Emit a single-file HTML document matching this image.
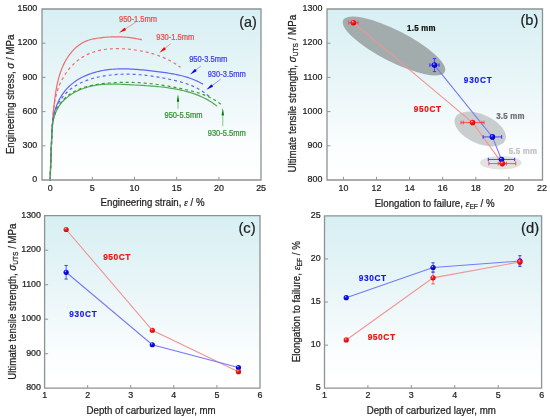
<!DOCTYPE html>
<html><head><meta charset="utf-8"><title>figure</title>
<style>
html,body{margin:0;padding:0;background:#fff;width:550px;height:420px;overflow:hidden;}
svg{display:block;font-family:"Liberation Sans", sans-serif;will-change:transform;}
</style></head><body>
<svg width="550" height="420" viewBox="0 0 550 420" font-family='"Liberation Sans", sans-serif'>
<defs>
<linearGradient id="bg" x1="0" y1="0" x2="0" y2="1">
<stop offset="0" stop-color="#d7eff3"/>
<stop offset="0.45" stop-color="#eaf6f8"/>
<stop offset="0.8" stop-color="#fbfdfe"/>
<stop offset="1" stop-color="#ffffff"/>
</linearGradient>
<radialGradient id="gr" cx="0.38" cy="0.32" r="0.7">
<stop offset="0" stop-color="#ffd0d0"/>
<stop offset="0.3" stop-color="#ff2020"/>
<stop offset="1" stop-color="#d00000"/>
</radialGradient>
<radialGradient id="gb" cx="0.38" cy="0.32" r="0.7">
<stop offset="0" stop-color="#d0d0ff"/>
<stop offset="0.3" stop-color="#1010ff"/>
<stop offset="1" stop-color="#0000b0"/>
</radialGradient>
</defs>
<rect width="550" height="420" fill="#ffffff"/>
<rect x="42.00" y="9.00" width="219.00" height="171.00" fill="url(#bg)"/>
<g fill="none" stroke-linecap="butt" stroke-linejoin="round" transform="translate(0,0.5)">
<path d="M50.16,180.00 L50.23,178.26 L50.30,176.52 L50.36,174.77 L50.42,173.03 L50.48,171.29 L50.54,169.55 L50.60,167.80 L50.66,166.06 L50.71,164.32 L50.77,162.58 L50.83,160.84 L50.88,159.10 L50.94,157.35 L50.99,155.61 L51.05,153.87 L51.11,152.13 L51.17,150.39 L51.23,148.65 L51.29,146.91 L51.36,145.17 L51.42,143.43 L51.49,141.69 L51.57,139.95 L51.64,138.21 L51.72,136.47 L51.80,134.73 L51.89,133.00 L51.98,131.26 L52.08,129.52 L52.18,127.78 L52.28,126.04 L52.39,124.31 L52.51,122.57 L52.63,120.83 L52.75,119.09 L52.89,117.36 L53.03,115.62 L53.17,113.89 L53.33,112.15 L53.49,110.41 L53.65,108.68 L53.83,106.94 L54.01,105.21 L54.20,103.48 L54.40,101.74 L54.61,100.01 L54.83,98.27 L55.06,96.54 L55.29,94.81 L55.54,93.08 L55.81,91.35 L56.09,89.63 L56.39,87.91 L56.71,86.19 L57.04,84.49 L57.40,82.78 L57.79,81.09 L58.20,79.40 L58.64,77.72 L59.10,76.05 L59.60,74.39 L60.13,72.74 L60.69,71.11 L61.29,69.48 L61.92,67.87 L62.60,66.27 L63.31,64.69 L64.06,63.12 L64.86,61.57 L65.70,60.03 L66.59,58.52 L67.52,57.04 L68.49,55.58 L69.51,54.16 L70.57,52.77 L71.68,51.43 L72.83,50.12 L74.02,48.87 L75.25,47.67 L76.53,46.52 L77.86,45.43 L79.22,44.40 L80.63,43.44 L82.08,42.55 L83.58,41.73 L85.12,40.99 L86.70,40.33 L88.33,39.74 L89.99,39.23 L91.68,38.79 L93.39,38.40 L95.13,38.07 L96.88,37.78 L98.64,37.52 L100.40,37.29 L102.16,37.09 L103.92,36.91 L105.68,36.75 L107.44,36.61 L109.19,36.50 L110.94,36.41 L112.69,36.35 L114.44,36.31 L116.19,36.30 L117.93,36.31 L119.67,36.35 L121.41,36.41 L123.14,36.50 L124.87,36.62 L126.59,36.77 L128.31,36.94 L130.03,37.14 L131.74,37.37 L133.45,37.62 L135.15,37.91 L136.85,38.23 L138.54,38.57 L140.23,38.95 L141.91,39.35" stroke="#ef6b6b" stroke-width="1.2"/>
<path d="M50.19,180.00 L50.23,178.01 L50.28,176.02 L50.33,174.03 L50.38,172.04 L50.44,170.05 L50.51,168.06 L50.58,166.07 L50.65,164.08 L50.72,162.09 L50.80,160.10 L50.88,158.11 L50.96,156.13 L51.05,154.14 L51.13,152.15 L51.22,150.16 L51.30,148.17 L51.39,146.19 L51.48,144.20 L51.56,142.21 L51.65,140.22 L51.73,138.24 L51.81,136.25 L51.89,134.26 L51.97,132.27 L52.05,130.28 L52.14,128.30 L52.22,126.31 L52.32,124.32 L52.42,122.33 L52.54,120.34 L52.67,118.36 L52.82,116.37 L52.98,114.38 L53.16,112.40 L53.37,110.41 L53.60,108.43 L53.86,106.45 L54.15,104.47 L54.47,102.51 L54.82,100.54 L55.21,98.59 L55.64,96.65 L56.11,94.72 L56.63,92.80 L57.19,90.90 L57.80,89.01 L58.47,87.13 L59.18,85.28 L59.95,83.44 L60.78,81.63 L61.67,79.84 L62.60,78.08 L63.60,76.34 L64.64,74.64 L65.73,72.97 L66.88,71.34 L68.07,69.75 L69.31,68.20 L70.60,66.70 L71.94,65.25 L73.32,63.84 L74.74,62.49 L76.20,61.20 L77.71,59.96 L79.26,58.78 L80.85,57.67 L82.48,56.62 L84.14,55.65 L85.84,54.74 L87.57,53.89 L89.34,53.12 L91.14,52.40 L92.97,51.75 L94.82,51.15 L96.70,50.62 L98.60,50.14 L100.52,49.71 L102.47,49.35 L104.43,49.03 L106.40,48.76 L108.40,48.54 L110.40,48.37 L112.42,48.25 L114.44,48.17 L116.48,48.13 L118.51,48.14 L120.56,48.18 L122.60,48.26 L124.65,48.38 L126.69,48.54 L128.73,48.73 L130.76,48.95 L132.79,49.20 L134.81,49.47 L136.82,49.78 L138.82,50.11 L140.80,50.47 L142.77,50.85 L144.72,51.26 L146.67,51.70 L148.59,52.17 L150.51,52.67 L152.41,53.20 L154.29,53.76 L156.16,54.36 L158.01,54.99 L159.85,55.66 L161.67,56.36 L163.48,57.10 L165.27,57.88 L167.04,58.70 L168.80,59.57 L170.54,60.47 L172.26,61.42 L173.97,62.41 L175.66,63.45 L177.33,64.53 L178.98,65.67 L180.62,66.85" stroke="#ef6b6b" stroke-width="1.2" stroke-dasharray="3,3"/>
<path d="M50.18,180.00 L50.25,177.99 L50.32,175.98 L50.38,173.97 L50.45,171.96 L50.52,169.95 L50.58,167.95 L50.64,165.94 L50.71,163.93 L50.77,161.93 L50.84,159.92 L50.90,157.92 L50.97,155.91 L51.03,153.91 L51.10,151.90 L51.17,149.90 L51.25,147.89 L51.32,145.89 L51.40,143.88 L51.48,141.88 L51.56,139.87 L51.65,137.86 L51.74,135.85 L51.83,133.84 L51.93,131.83 L52.05,129.82 L52.18,127.81 L52.34,125.80 L52.52,123.80 L52.74,121.80 L53.00,119.81 L53.31,117.82 L53.66,115.84 L54.07,113.87 L54.53,111.91 L55.04,109.97 L55.62,108.04 L56.26,106.14 L56.95,104.27 L57.72,102.42 L58.55,100.60 L59.45,98.81 L60.42,97.06 L61.45,95.34 L62.56,93.67 L63.73,92.04 L64.96,90.46 L66.25,88.93 L67.60,87.45 L69.01,86.02 L70.47,84.66 L71.99,83.35 L73.55,82.11 L75.17,80.93 L76.82,79.81 L78.52,78.75 L80.25,77.76 L82.02,76.82 L83.81,75.94 L85.63,75.11 L87.47,74.34 L89.33,73.63 L91.21,72.97 L93.10,72.36 L95.00,71.80 L96.92,71.28 L98.85,70.82 L100.79,70.40 L102.74,70.02 L104.70,69.69 L106.67,69.40 L108.65,69.15 L110.64,68.93 L112.63,68.75 L114.64,68.61 L116.65,68.50 L118.66,68.43 L120.68,68.38 L122.71,68.36 L124.74,68.37 L126.77,68.41 L128.80,68.47 L130.84,68.56 L132.88,68.66 L134.92,68.79 L136.96,68.94 L139.00,69.10 L141.03,69.28 L143.07,69.47 L145.10,69.68 L147.13,69.89 L149.16,70.12 L151.18,70.36 L153.19,70.60 L155.20,70.85 L157.21,71.10 L159.21,71.35 L161.20,71.61 L163.18,71.88 L165.15,72.15 L167.12,72.44 L169.08,72.74 L171.04,73.06 L172.98,73.40 L174.92,73.76 L176.85,74.15 L178.78,74.56 L180.70,75.01 L182.61,75.49 L184.51,76.00 L186.40,76.56 L188.29,77.15 L190.17,77.79 L192.04,78.47 L193.91,79.20 L195.77,79.99 L197.62,80.83 L199.46,81.73 L201.29,82.68 L203.12,83.70" stroke="#6464ee" stroke-width="1.2"/>
<path d="M50.20,180.00 L50.23,177.94 L50.26,175.87 L50.30,173.81 L50.35,171.74 L50.42,169.68 L50.48,167.61 L50.56,165.55 L50.64,163.48 L50.72,161.41 L50.81,159.35 L50.91,157.28 L51.00,155.21 L51.10,153.15 L51.19,151.08 L51.29,149.02 L51.38,146.95 L51.47,144.88 L51.56,142.82 L51.65,140.76 L51.73,138.69 L51.80,136.63 L51.87,134.57 L51.93,132.51 L52.00,130.45 L52.09,128.40 L52.21,126.34 L52.36,124.28 L52.57,122.23 L52.84,120.17 L53.19,118.11 L53.62,116.06 L54.13,114.01 L54.72,111.98 L55.39,109.97 L56.14,107.99 L56.96,106.04 L57.86,104.14 L58.84,102.29 L59.88,100.49 L61.00,98.76 L62.19,97.10 L63.44,95.50 L64.76,93.98 L66.14,92.53 L67.58,91.15 L69.08,89.83 L70.63,88.58 L72.23,87.38 L73.89,86.25 L75.58,85.18 L77.33,84.17 L79.11,83.22 L80.93,82.32 L82.79,81.47 L84.67,80.68 L86.59,79.94 L88.54,79.25 L90.51,78.61 L92.51,78.01 L94.52,77.46 L96.55,76.95 L98.59,76.48 L100.65,76.06 L102.71,75.67 L104.78,75.32 L106.86,75.01 L108.93,74.74 L111.01,74.49 L113.08,74.28 L115.15,74.10 L117.22,73.96 L119.29,73.84 L121.35,73.75 L123.42,73.70 L125.48,73.67 L127.54,73.67 L129.60,73.70 L131.66,73.75 L133.71,73.83 L135.77,73.94 L137.82,74.07 L139.87,74.23 L141.92,74.41 L143.97,74.61 L146.01,74.83 L148.06,75.08 L150.10,75.34 L152.14,75.63 L154.18,75.93 L156.22,76.26 L158.26,76.60 L160.29,76.96 L162.32,77.34 L164.35,77.73 L166.38,78.14 L168.41,78.56 L170.44,79.00 L172.46,79.45 L174.49,79.91 L176.50,80.40 L178.51,80.91 L180.52,81.44 L182.51,82.00 L184.48,82.59 L186.44,83.23 L188.38,83.90 L190.31,84.61 L192.21,85.37 L194.08,86.19 L195.93,87.06 L197.75,87.98 L199.54,88.97 L201.30,90.02 L203.02,91.15 L204.70,92.34 L206.34,93.61 L207.94,94.97 L209.50,96.40 L211.01,97.92" stroke="#6464ee" stroke-width="1.2" stroke-dasharray="3,3"/>
<path d="M50.20,180.00 L50.21,177.94 L50.24,175.88 L50.28,173.82 L50.34,171.76 L50.41,169.71 L50.49,167.65 L50.57,165.60 L50.66,163.54 L50.76,161.49 L50.86,159.44 L50.95,157.39 L51.05,155.34 L51.14,153.28 L51.22,151.23 L51.29,149.18 L51.36,147.13 L51.42,145.08 L51.47,143.03 L51.53,140.98 L51.59,138.92 L51.65,136.86 L51.73,134.80 L51.81,132.73 L51.92,130.67 L52.07,128.60 L52.26,126.53 L52.50,124.47 L52.80,122.42 L53.17,120.39 L53.61,118.37 L54.14,116.38 L54.74,114.43 L55.43,112.52 L56.20,110.65 L57.08,108.84 L58.05,107.09 L59.13,105.40 L60.30,103.78 L61.56,102.22 L62.90,100.72 L64.33,99.29 L65.83,97.92 L67.40,96.61 L69.03,95.37 L70.73,94.19 L72.48,93.08 L74.28,92.03 L76.13,91.04 L78.02,90.12 L79.94,89.26 L81.89,88.47 L83.86,87.74 L85.86,87.07 L87.87,86.47 L89.89,85.93 L91.92,85.46 L93.95,85.05 L95.98,84.69 L98.02,84.40 L100.06,84.15 L102.10,83.95 L104.15,83.80 L106.20,83.68 L108.24,83.61 L110.29,83.57 L112.35,83.56 L114.40,83.57 L116.45,83.61 L118.50,83.67 L120.56,83.75 L122.61,83.85 L124.66,83.95 L126.72,84.06 L128.77,84.17 L130.82,84.28 L132.87,84.40 L134.91,84.51 L136.96,84.62 L139.01,84.73 L141.05,84.85 L143.09,84.97 L145.14,85.10 L147.18,85.24 L149.22,85.38 L151.27,85.53 L153.31,85.70 L155.35,85.87 L157.40,86.06 L159.44,86.27 L161.48,86.48 L163.53,86.72 L165.58,86.97 L167.62,87.25 L169.67,87.54 L171.72,87.85 L173.76,88.19 L175.80,88.56 L177.83,88.95 L179.86,89.36 L181.88,89.81 L183.90,90.29 L185.90,90.80 L187.89,91.34 L189.87,91.92 L191.83,92.53 L193.78,93.18 L195.71,93.87 L197.62,94.60 L199.52,95.37 L201.39,96.18 L203.25,97.04 L205.07,97.94 L206.88,98.89 L208.66,99.89 L210.41,100.94 L212.14,102.04 L213.83,103.20 L215.49,104.40 L217.12,105.67" stroke="#55aa55" stroke-width="1.2"/>
<path d="M50.19,180.00 L50.24,177.88 L50.30,175.76 L50.36,173.64 L50.42,171.53 L50.49,169.42 L50.56,167.30 L50.63,165.19 L50.70,163.08 L50.78,160.97 L50.86,158.87 L50.94,156.76 L51.02,154.65 L51.10,152.54 L51.19,150.44 L51.27,148.33 L51.35,146.22 L51.43,144.11 L51.52,142.00 L51.60,139.89 L51.68,137.78 L51.76,135.66 L51.84,133.54 L51.92,131.43 L52.03,129.31 L52.18,127.19 L52.38,125.07 L52.65,122.95 L53.00,120.83 L53.45,118.72 L53.98,116.61 L54.61,114.54 L55.33,112.49 L56.14,110.48 L57.03,108.53 L58.01,106.64 L59.07,104.81 L60.22,103.07 L61.44,101.41 L62.75,99.84 L64.14,98.37 L65.59,96.97 L67.12,95.66 L68.71,94.43 L70.36,93.28 L72.07,92.20 L73.84,91.20 L75.66,90.26 L77.53,89.39 L79.44,88.58 L81.39,87.84 L83.38,87.15 L85.40,86.52 L87.46,85.95 L89.54,85.42 L91.64,84.94 L93.77,84.51 L95.91,84.12 L98.07,83.77 L100.23,83.45 L102.40,83.17 L104.57,82.93 L106.75,82.71 L108.92,82.52 L111.08,82.35 L113.23,82.20 L115.38,82.08 L117.52,81.99 L119.65,81.91 L121.78,81.86 L123.90,81.83 L126.02,81.82 L128.13,81.83 L130.23,81.86 L132.33,81.91 L134.43,81.98 L136.52,82.07 L138.61,82.18 L140.70,82.31 L142.78,82.46 L144.86,82.63 L146.94,82.81 L149.01,83.02 L151.09,83.23 L153.16,83.47 L155.23,83.72 L157.30,83.99 L159.37,84.27 L161.44,84.57 L163.50,84.89 L165.57,85.22 L167.64,85.56 L169.71,85.92 L171.78,86.29 L173.86,86.67 L175.93,87.07 L178.01,87.48 L180.09,87.90 L182.17,88.33 L184.25,88.78 L186.33,89.24 L188.41,89.72 L190.49,90.22 L192.56,90.75 L194.62,91.31 L196.67,91.89 L198.70,92.52 L200.72,93.18 L202.72,93.89 L204.69,94.63 L206.65,95.43 L208.58,96.28 L210.48,97.19 L212.34,98.15 L214.18,99.17 L215.98,100.26 L217.75,101.41 L219.47,102.64 L221.16,103.94 L222.79,105.32" stroke="#3c9a3c" stroke-width="1.2" stroke-dasharray="3,3"/>
</g>
<text transform="translate(138.00,21.50) scale(1,1.120)" text-anchor="middle" font-size="7.55" fill="#f24a4a" stroke="#f24a4a" stroke-width="0.22">950-1.5mm</text>
<text transform="translate(175.30,40.30) scale(1,1.120)" text-anchor="middle" font-size="7.55" fill="#f24a4a" stroke="#f24a4a" stroke-width="0.22">930-1.5mm</text>
<text transform="translate(208.20,61.80) scale(1,1.120)" text-anchor="middle" font-size="7.55" fill="#3c3cf4" stroke="#3c3cf4" stroke-width="0.22">950-3.5mm</text>
<text transform="translate(226.70,76.90) scale(1,1.120)" text-anchor="middle" font-size="7.55" fill="#3c3cf4" stroke="#3c3cf4" stroke-width="0.22">930-3.5mm</text>
<text transform="translate(183.50,117.70) scale(1,1.120)" text-anchor="middle" font-size="7.55" fill="#2e962e" stroke="#2e962e" stroke-width="0.22">950-5.5mm</text>
<text transform="translate(226.80,135.50) scale(1,1.120)" text-anchor="middle" font-size="7.55" fill="#2e962e" stroke="#2e962e" stroke-width="0.22">930-5.5mm</text>
<line x1="135.70" y1="22.30" x2="124.68" y2="29.31" stroke="#f46a6a" stroke-width="0.70"/>
<path d="M119.20,32.80 L124.33,27.82 Q126.12,28.40 125.88,30.27 Z" fill="#ff0000"/>
<line x1="170.50" y1="43.80" x2="164.47" y2="48.63" stroke="#f46a6a" stroke-width="0.70"/>
<path d="M159.40,52.70 L163.95,47.19 Q165.80,47.57 165.77,49.45 Z" fill="#ff0000"/>
<line x1="200.80" y1="66.10" x2="195.24" y2="70.42" stroke="#7070ff" stroke-width="0.70"/>
<path d="M190.10,74.40 L194.74,68.96 Q196.58,69.37 196.52,71.26 Z" fill="#0000ff"/>
<line x1="220.60" y1="79.30" x2="211.63" y2="85.94" stroke="#7070ff" stroke-width="0.70"/>
<path d="M206.40,89.80 L211.17,84.47 Q212.99,84.92 212.89,86.80 Z" fill="#0000ff"/>
<line x1="178.00" y1="108.90" x2="178.00" y2="100.80" stroke="#60b060" stroke-width="0.70"/>
<path d="M178.00,94.30 L179.20,101.30 Q178.00,102.50 176.80,101.30 Z" fill="#008000"/>
<line x1="222.80" y1="126.20" x2="222.80" y2="114.50" stroke="#60b060" stroke-width="0.70"/>
<path d="M222.80,108.00 L224.00,115.00 Q222.80,116.20 221.60,115.00 Z" fill="#008000"/>
<path d="M42.00,9.00 H261.00 V180.00 H42.00 Z" fill="none" stroke="#8d9292" stroke-width="1.3"/>
<line x1="50.10" y1="180.00" x2="50.10" y2="176.80" stroke="#8e9696" stroke-width="1"/>
<text transform="translate(50.10,190.70) scale(1,1.120)" text-anchor="middle" font-size="8.90" fill="#1e1e1e" stroke="#1e1e1e" stroke-width="0.22">0</text>
<line x1="92.30" y1="180.00" x2="92.30" y2="176.80" stroke="#8e9696" stroke-width="1"/>
<text transform="translate(92.30,190.70) scale(1,1.120)" text-anchor="middle" font-size="8.90" fill="#1e1e1e" stroke="#1e1e1e" stroke-width="0.22">5</text>
<line x1="134.50" y1="180.00" x2="134.50" y2="176.80" stroke="#8e9696" stroke-width="1"/>
<text transform="translate(134.50,190.70) scale(1,1.120)" text-anchor="middle" font-size="8.90" fill="#1e1e1e" stroke="#1e1e1e" stroke-width="0.22">10</text>
<line x1="176.70" y1="180.00" x2="176.70" y2="176.80" stroke="#8e9696" stroke-width="1"/>
<text transform="translate(176.70,190.70) scale(1,1.120)" text-anchor="middle" font-size="8.90" fill="#1e1e1e" stroke="#1e1e1e" stroke-width="0.22">15</text>
<line x1="218.90" y1="180.00" x2="218.90" y2="176.80" stroke="#8e9696" stroke-width="1"/>
<text transform="translate(218.90,190.70) scale(1,1.120)" text-anchor="middle" font-size="8.90" fill="#1e1e1e" stroke="#1e1e1e" stroke-width="0.22">20</text>
<text transform="translate(261.10,190.70) scale(1,1.120)" text-anchor="middle" font-size="8.90" fill="#1e1e1e" stroke="#1e1e1e" stroke-width="0.22">25</text>
<text transform="translate(37.30,182.25) scale(1,1.120)" text-anchor="end" font-size="8.90" fill="#1e1e1e" stroke="#1e1e1e" stroke-width="0.22">0</text>
<line x1="42.00" y1="145.80" x2="45.50" y2="145.80" stroke="#8e9696" stroke-width="1"/>
<text transform="translate(37.30,148.05) scale(1,1.120)" text-anchor="end" font-size="8.90" fill="#1e1e1e" stroke="#1e1e1e" stroke-width="0.22">300</text>
<line x1="42.00" y1="111.60" x2="45.50" y2="111.60" stroke="#8e9696" stroke-width="1"/>
<text transform="translate(37.30,113.85) scale(1,1.120)" text-anchor="end" font-size="8.90" fill="#1e1e1e" stroke="#1e1e1e" stroke-width="0.22">600</text>
<line x1="42.00" y1="77.40" x2="45.50" y2="77.40" stroke="#8e9696" stroke-width="1"/>
<text transform="translate(37.30,79.65) scale(1,1.120)" text-anchor="end" font-size="8.90" fill="#1e1e1e" stroke="#1e1e1e" stroke-width="0.22">900</text>
<line x1="42.00" y1="43.20" x2="45.50" y2="43.20" stroke="#8e9696" stroke-width="1"/>
<text transform="translate(37.30,45.45) scale(1,1.120)" text-anchor="end" font-size="8.90" fill="#1e1e1e" stroke="#1e1e1e" stroke-width="0.22">1200</text>
<text transform="translate(37.30,11.25) scale(1,1.120)" text-anchor="end" font-size="8.90" fill="#1e1e1e" stroke="#1e1e1e" stroke-width="0.22">1500</text>
<text transform="translate(152.60,205.50) scale(1,1.120)" text-anchor="middle" font-size="9.70" fill="#1e1e1e" stroke="#1e1e1e" stroke-width="0.22">Engineering strain, <tspan font-style="italic" font-family="Liberation Serif">ε</tspan> / %</text>
<text transform="translate(14.40,94.40) rotate(-90) scale(1,1.120)" text-anchor="middle" font-size="9.70" fill="#1e1e1e" stroke="#1e1e1e" stroke-width="0.22">Engineering stress, <tspan font-style="italic">σ</tspan> / MPa</text>
<text transform="translate(248.00,26.50) scale(1,1.000)" text-anchor="middle" font-size="14.40" fill="#1e1e1e" stroke="#1e1e1e" stroke-width="0.22">(a)</text>
<rect x="327.00" y="9.00" width="215.50" height="171.00" fill="url(#bg)"/>
<ellipse cx="394.0" cy="46.0" rx="57.0" ry="15.6" transform="rotate(27 394.0 46.0)" fill="#a3acac"/>
<ellipse cx="480.2" cy="129.0" rx="27.4" ry="14.6" transform="rotate(24 480.2 129.0)" fill="#cacdcd"/>
<ellipse cx="500.8" cy="162.7" rx="20.8" ry="6.8" fill="#e1e3e3"/>
<text transform="translate(421.40,30.70) scale(1,1.120)" text-anchor="middle" font-size="7.90" fill="#111111" font-weight="bold" stroke="#111111" stroke-width="0.22" letter-spacing="0.25">1.5 mm</text>
<text transform="translate(510.50,119.00) scale(1,1.120)" text-anchor="middle" font-size="7.90" fill="#6e6e6e" font-weight="bold" stroke="#6e6e6e" stroke-width="0.22" letter-spacing="0.25">3.5 mm</text>
<text transform="translate(523.00,153.80) scale(1,1.120)" text-anchor="middle" font-size="7.90" fill="#c2c2c2" font-weight="bold" stroke="#c2c2c2" stroke-width="0.22" letter-spacing="0.25">5.5 mm</text>
<polyline points="353.38,22.68 472.54,122.54 502.33,163.58" fill="none" stroke="#f29494" stroke-width="1.1"/>
<polyline points="434.47,65.09 492.40,136.91 501.50,159.48" fill="none" stroke="#7878f6" stroke-width="1.1"/>
<line x1="348.78" y1="22.68" x2="357.98" y2="22.68" stroke="#ff4040" stroke-width="0.85"/>
<line x1="348.78" y1="20.88" x2="348.78" y2="24.48" stroke="#ff4040" stroke-width="1"/>
<line x1="357.98" y1="20.88" x2="357.98" y2="24.48" stroke="#ff4040" stroke-width="1"/>
<line x1="461.04" y1="122.54" x2="484.04" y2="122.54" stroke="#ff4040" stroke-width="0.85"/>
<line x1="461.04" y1="120.74" x2="461.04" y2="124.34" stroke="#ff4040" stroke-width="1"/>
<line x1="463.24" y1="120.74" x2="463.24" y2="124.34" stroke="#ff4040" stroke-width="1"/>
<line x1="484.04" y1="120.74" x2="484.04" y2="124.34" stroke="#ff4040" stroke-width="1"/>
<line x1="481.84" y1="120.74" x2="481.84" y2="124.34" stroke="#ff4040" stroke-width="1"/>
<line x1="488.93" y1="163.58" x2="515.73" y2="163.58" stroke="#ff4040" stroke-width="0.85"/>
<line x1="488.93" y1="161.78" x2="488.93" y2="165.38" stroke="#ff4040" stroke-width="1"/>
<line x1="515.73" y1="161.78" x2="515.73" y2="165.38" stroke="#ff4040" stroke-width="1"/>
<line x1="498.23" y1="163.58" x2="506.43" y2="163.58" stroke="#ff4040" stroke-width="0.85"/>
<line x1="498.23" y1="161.78" x2="498.23" y2="165.38" stroke="#ff4040" stroke-width="1"/>
<line x1="506.43" y1="161.78" x2="506.43" y2="165.38" stroke="#ff4040" stroke-width="1"/>
<line x1="429.87" y1="65.09" x2="439.07" y2="65.09" stroke="#3030ff" stroke-width="0.85"/>
<line x1="429.87" y1="63.29" x2="429.87" y2="66.89" stroke="#3030ff" stroke-width="1"/>
<line x1="439.07" y1="63.29" x2="439.07" y2="66.89" stroke="#3030ff" stroke-width="1"/>
<line x1="434.47" y1="58.59" x2="434.47" y2="71.59" stroke="#3030ff" stroke-width="0.8"/>
<line x1="432.87" y1="58.59" x2="436.07" y2="58.59" stroke="#3030ff" stroke-width="0.9"/>
<line x1="432.87" y1="71.59" x2="436.07" y2="71.59" stroke="#3030ff" stroke-width="0.9"/>
<line x1="483.10" y1="136.91" x2="501.70" y2="136.91" stroke="#3030ff" stroke-width="0.85"/>
<line x1="483.10" y1="135.11" x2="483.10" y2="138.71" stroke="#3030ff" stroke-width="1"/>
<line x1="501.70" y1="135.11" x2="501.70" y2="138.71" stroke="#3030ff" stroke-width="1"/>
<line x1="488.30" y1="159.48" x2="514.70" y2="159.48" stroke="#3030ff" stroke-width="0.85"/>
<line x1="488.30" y1="157.68" x2="488.30" y2="161.28" stroke="#3030ff" stroke-width="1"/>
<line x1="514.70" y1="157.68" x2="514.70" y2="161.28" stroke="#3030ff" stroke-width="1"/>
<circle cx="434.47" cy="65.09" r="2.80" fill="url(#gb)"/>
<circle cx="492.40" cy="136.91" r="2.80" fill="url(#gb)"/>
<circle cx="501.50" cy="159.48" r="2.80" fill="url(#gb)"/>
<circle cx="353.38" cy="22.68" r="2.80" fill="url(#gr)"/>
<circle cx="472.54" cy="122.54" r="2.80" fill="url(#gr)"/>
<circle cx="502.33" cy="163.58" r="2.80" fill="url(#gr)"/>
<text transform="translate(478.20,83.00) scale(1,1.120)" text-anchor="middle" font-size="8.20" fill="#1414f0" font-weight="bold" stroke="#1414f0" stroke-width="0.15" letter-spacing="0.85">930CT</text>
<text transform="translate(427.70,111.90) scale(1,1.160)" text-anchor="middle" font-size="8.20" fill="#f01414" font-weight="bold" stroke="#f01414" stroke-width="0.20" letter-spacing="0.65">950CT</text>
<path d="M327.00,9.00 H542.50 V180.00 H327.00 Z" fill="none" stroke="#8d9292" stroke-width="1.3"/>
<line x1="343.45" y1="180.00" x2="343.45" y2="176.80" stroke="#8e9696" stroke-width="1"/>
<text transform="translate(343.45,190.70) scale(1,1.120)" text-anchor="middle" font-size="8.90" fill="#1e1e1e" stroke="#1e1e1e" stroke-width="0.22">10</text>
<line x1="376.55" y1="180.00" x2="376.55" y2="176.80" stroke="#8e9696" stroke-width="1"/>
<text transform="translate(376.55,190.70) scale(1,1.120)" text-anchor="middle" font-size="8.90" fill="#1e1e1e" stroke="#1e1e1e" stroke-width="0.22">12</text>
<line x1="409.65" y1="180.00" x2="409.65" y2="176.80" stroke="#8e9696" stroke-width="1"/>
<text transform="translate(409.65,190.70) scale(1,1.120)" text-anchor="middle" font-size="8.90" fill="#1e1e1e" stroke="#1e1e1e" stroke-width="0.22">14</text>
<line x1="442.75" y1="180.00" x2="442.75" y2="176.80" stroke="#8e9696" stroke-width="1"/>
<text transform="translate(442.75,190.70) scale(1,1.120)" text-anchor="middle" font-size="8.90" fill="#1e1e1e" stroke="#1e1e1e" stroke-width="0.22">16</text>
<line x1="475.85" y1="180.00" x2="475.85" y2="176.80" stroke="#8e9696" stroke-width="1"/>
<text transform="translate(475.85,190.70) scale(1,1.120)" text-anchor="middle" font-size="8.90" fill="#1e1e1e" stroke="#1e1e1e" stroke-width="0.22">18</text>
<line x1="508.95" y1="180.00" x2="508.95" y2="176.80" stroke="#8e9696" stroke-width="1"/>
<text transform="translate(508.95,190.70) scale(1,1.120)" text-anchor="middle" font-size="8.90" fill="#1e1e1e" stroke="#1e1e1e" stroke-width="0.22">20</text>
<text transform="translate(542.05,190.70) scale(1,1.120)" text-anchor="middle" font-size="8.90" fill="#1e1e1e" stroke="#1e1e1e" stroke-width="0.22">22</text>
<text transform="translate(322.40,182.25) scale(1,1.120)" text-anchor="end" font-size="8.90" fill="#1e1e1e" stroke="#1e1e1e" stroke-width="0.22">800</text>
<line x1="327.00" y1="145.80" x2="330.50" y2="145.80" stroke="#8e9696" stroke-width="1"/>
<text transform="translate(322.40,148.05) scale(1,1.120)" text-anchor="end" font-size="8.90" fill="#1e1e1e" stroke="#1e1e1e" stroke-width="0.22">900</text>
<line x1="327.00" y1="111.60" x2="330.50" y2="111.60" stroke="#8e9696" stroke-width="1"/>
<text transform="translate(322.40,113.85) scale(1,1.120)" text-anchor="end" font-size="8.90" fill="#1e1e1e" stroke="#1e1e1e" stroke-width="0.22">1000</text>
<line x1="327.00" y1="77.40" x2="330.50" y2="77.40" stroke="#8e9696" stroke-width="1"/>
<text transform="translate(322.40,79.65) scale(1,1.120)" text-anchor="end" font-size="8.90" fill="#1e1e1e" stroke="#1e1e1e" stroke-width="0.22">1100</text>
<line x1="327.00" y1="43.20" x2="330.50" y2="43.20" stroke="#8e9696" stroke-width="1"/>
<text transform="translate(322.40,45.45) scale(1,1.120)" text-anchor="end" font-size="8.90" fill="#1e1e1e" stroke="#1e1e1e" stroke-width="0.22">1200</text>
<text transform="translate(322.40,11.25) scale(1,1.120)" text-anchor="end" font-size="8.90" fill="#1e1e1e" stroke="#1e1e1e" stroke-width="0.22">1300</text>
<text transform="translate(434.60,206.90) scale(1,1.120)" text-anchor="middle" font-size="9.70" fill="#1e1e1e" stroke="#1e1e1e" stroke-width="0.22">Elongation to failure, <tspan font-style="italic" font-family="Liberation Serif">ε</tspan><tspan font-size="6.6" dy="2">EF</tspan><tspan dy="-2"> / %</tspan></text>
<text transform="translate(296.00,93.70) rotate(-90) scale(1,1.120)" text-anchor="middle" font-size="9.80" fill="#1e1e1e" stroke="#1e1e1e" stroke-width="0.22">Ultimate tensile strength, <tspan font-style="italic">σ</tspan><tspan font-size="6.6" dy="2">UTS</tspan><tspan dy="-2"> / MPa</tspan></text>
<text transform="translate(529.40,25.20) scale(1,1.000)" text-anchor="middle" font-size="14.60" fill="#1e1e1e" stroke="#1e1e1e" stroke-width="0.22">(b)</text>
<rect x="44.60" y="215.60" width="215.40" height="172.60" fill="url(#bg)"/>
<polyline points="66.14,229.50 152.30,330.24 238.46,371.64" fill="none" stroke="#f29494" stroke-width="1.1"/>
<polyline points="66.14,272.28 152.30,344.73 238.46,367.50" fill="none" stroke="#7878f6" stroke-width="1.1"/>
<line x1="66.14" y1="265.48" x2="66.14" y2="279.08" stroke="#3030ff" stroke-width="0.8"/>
<line x1="64.54" y1="265.48" x2="67.74" y2="265.48" stroke="#3030ff" stroke-width="0.9"/>
<line x1="64.54" y1="279.08" x2="67.74" y2="279.08" stroke="#3030ff" stroke-width="0.9"/>
<circle cx="66.14" cy="272.28" r="2.60" fill="url(#gb)"/>
<circle cx="152.30" cy="344.73" r="2.60" fill="url(#gb)"/>
<circle cx="238.46" cy="367.50" r="2.60" fill="url(#gb)"/>
<circle cx="66.14" cy="229.50" r="2.60" fill="url(#gr)"/>
<circle cx="152.30" cy="330.24" r="2.60" fill="url(#gr)"/>
<circle cx="238.46" cy="371.64" r="2.60" fill="url(#gr)"/>
<text transform="translate(117.00,259.90) scale(1,1.150)" text-anchor="middle" font-size="8.40" fill="#f01414" font-weight="bold" stroke="#f01414" stroke-width="0.20" letter-spacing="0.5">950CT</text>
<text transform="translate(83.30,317.20) scale(1,1.120)" text-anchor="middle" font-size="8.20" fill="#1414f0" font-weight="bold" stroke="#1414f0" stroke-width="0.15" letter-spacing="0.75">930CT</text>
<path d="M44.60,215.60 H260.00 V388.20 H44.60 Z" fill="none" stroke="#8d9292" stroke-width="1.3"/>
<text transform="translate(44.60,398.10) scale(1,1.120)" text-anchor="middle" font-size="8.90" fill="#1e1e1e" stroke="#1e1e1e" stroke-width="0.22">1</text>
<line x1="87.68" y1="388.20" x2="87.68" y2="385.00" stroke="#8e9696" stroke-width="1"/>
<text transform="translate(87.68,398.10) scale(1,1.120)" text-anchor="middle" font-size="8.90" fill="#1e1e1e" stroke="#1e1e1e" stroke-width="0.22">2</text>
<line x1="130.76" y1="388.20" x2="130.76" y2="385.00" stroke="#8e9696" stroke-width="1"/>
<text transform="translate(130.76,398.10) scale(1,1.120)" text-anchor="middle" font-size="8.90" fill="#1e1e1e" stroke="#1e1e1e" stroke-width="0.22">3</text>
<line x1="173.84" y1="388.20" x2="173.84" y2="385.00" stroke="#8e9696" stroke-width="1"/>
<text transform="translate(173.84,398.10) scale(1,1.120)" text-anchor="middle" font-size="8.90" fill="#1e1e1e" stroke="#1e1e1e" stroke-width="0.22">4</text>
<line x1="216.92" y1="388.20" x2="216.92" y2="385.00" stroke="#8e9696" stroke-width="1"/>
<text transform="translate(216.92,398.10) scale(1,1.120)" text-anchor="middle" font-size="8.90" fill="#1e1e1e" stroke="#1e1e1e" stroke-width="0.22">5</text>
<text transform="translate(260.00,398.10) scale(1,1.120)" text-anchor="middle" font-size="8.90" fill="#1e1e1e" stroke="#1e1e1e" stroke-width="0.22">6</text>
<text transform="translate(41.00,390.45) scale(1,1.120)" text-anchor="end" font-size="8.90" fill="#1e1e1e" stroke="#1e1e1e" stroke-width="0.22">800</text>
<line x1="44.60" y1="353.70" x2="48.10" y2="353.70" stroke="#8e9696" stroke-width="1"/>
<text transform="translate(41.00,355.95) scale(1,1.120)" text-anchor="end" font-size="8.90" fill="#1e1e1e" stroke="#1e1e1e" stroke-width="0.22">900</text>
<line x1="44.60" y1="319.20" x2="48.10" y2="319.20" stroke="#8e9696" stroke-width="1"/>
<text transform="translate(41.00,321.45) scale(1,1.120)" text-anchor="end" font-size="8.90" fill="#1e1e1e" stroke="#1e1e1e" stroke-width="0.22">1000</text>
<line x1="44.60" y1="284.70" x2="48.10" y2="284.70" stroke="#8e9696" stroke-width="1"/>
<text transform="translate(41.00,286.95) scale(1,1.120)" text-anchor="end" font-size="8.90" fill="#1e1e1e" stroke="#1e1e1e" stroke-width="0.22">1100</text>
<line x1="44.60" y1="250.20" x2="48.10" y2="250.20" stroke="#8e9696" stroke-width="1"/>
<text transform="translate(41.00,252.45) scale(1,1.120)" text-anchor="end" font-size="8.90" fill="#1e1e1e" stroke="#1e1e1e" stroke-width="0.22">1200</text>
<text transform="translate(41.00,217.95) scale(1,1.120)" text-anchor="end" font-size="8.90" fill="#1e1e1e" stroke="#1e1e1e" stroke-width="0.22">1300</text>
<text transform="translate(151.10,413.70) scale(1,1.040)" text-anchor="middle" font-size="9.70" fill="#1e1e1e" stroke="#1e1e1e" stroke-width="0.22">Depth of carburized layer, mm</text>
<text transform="translate(16.00,301.70) rotate(-90) scale(1,1.120)" text-anchor="middle" font-size="9.70" fill="#1e1e1e" stroke="#1e1e1e" stroke-width="0.22">Ultimate tensile strength, <tspan font-style="italic">σ</tspan><tspan font-size="6.6" dy="2">UTS</tspan><tspan dy="-2"> / MPa</tspan></text>
<text transform="translate(247.00,232.70) scale(1,1.000)" text-anchor="middle" font-size="14.80" fill="#1e1e1e" stroke="#1e1e1e" stroke-width="0.22">(c)</text>
<rect x="324.50" y="215.80" width="217.10" height="172.40" fill="url(#bg)"/>
<polyline points="346.21,339.93 433.05,277.86 519.89,261.92" fill="none" stroke="#f29494" stroke-width="1.1"/>
<polyline points="346.21,297.69 433.05,267.52 519.89,261.06" fill="none" stroke="#7878f6" stroke-width="1.1"/>
<line x1="433.05" y1="271.86" x2="433.05" y2="283.86" stroke="#ff4040" stroke-width="0.8"/>
<line x1="431.45" y1="271.86" x2="434.65" y2="271.86" stroke="#ff4040" stroke-width="0.9"/>
<line x1="431.45" y1="283.86" x2="434.65" y2="283.86" stroke="#ff4040" stroke-width="0.9"/>
<line x1="519.89" y1="258.92" x2="519.89" y2="264.92" stroke="#ff4040" stroke-width="0.8"/>
<line x1="518.29" y1="258.92" x2="521.49" y2="258.92" stroke="#ff4040" stroke-width="0.9"/>
<line x1="518.29" y1="264.92" x2="521.49" y2="264.92" stroke="#ff4040" stroke-width="0.9"/>
<line x1="433.05" y1="262.82" x2="433.05" y2="272.22" stroke="#3030ff" stroke-width="0.8"/>
<line x1="431.45" y1="262.82" x2="434.65" y2="262.82" stroke="#3030ff" stroke-width="0.9"/>
<line x1="431.45" y1="272.22" x2="434.65" y2="272.22" stroke="#3030ff" stroke-width="0.9"/>
<line x1="519.89" y1="255.66" x2="519.89" y2="266.45" stroke="#3030ff" stroke-width="0.8"/>
<line x1="518.29" y1="255.66" x2="521.49" y2="255.66" stroke="#3030ff" stroke-width="0.9"/>
<line x1="518.29" y1="266.45" x2="521.49" y2="266.45" stroke="#3030ff" stroke-width="0.9"/>
<circle cx="346.21" cy="297.69" r="2.60" fill="url(#gb)"/>
<circle cx="433.05" cy="267.52" r="2.60" fill="url(#gb)"/>
<circle cx="519.89" cy="261.06" r="2.60" fill="url(#gb)"/>
<circle cx="346.21" cy="339.93" r="2.60" fill="url(#gr)"/>
<circle cx="433.05" cy="277.86" r="2.60" fill="url(#gr)"/>
<circle cx="519.89" cy="261.92" r="2.60" fill="url(#gr)"/>
<text transform="translate(372.70,281.00) scale(1,1.120)" text-anchor="middle" font-size="8.30" fill="#1414f0" font-weight="bold" stroke="#1414f0" stroke-width="0.15" letter-spacing="0.6">930CT</text>
<text transform="translate(381.60,339.80) scale(1,1.160)" text-anchor="middle" font-size="8.40" fill="#f01414" font-weight="bold" stroke="#f01414" stroke-width="0.20" letter-spacing="0.55">950CT</text>
<path d="M324.50,215.80 H541.60 V388.20 H324.50 Z" fill="none" stroke="#8d9292" stroke-width="1.3"/>
<text transform="translate(324.50,398.10) scale(1,1.120)" text-anchor="middle" font-size="8.90" fill="#1e1e1e" stroke="#1e1e1e" stroke-width="0.22">1</text>
<line x1="367.92" y1="388.20" x2="367.92" y2="385.00" stroke="#8e9696" stroke-width="1"/>
<text transform="translate(367.92,398.10) scale(1,1.120)" text-anchor="middle" font-size="8.90" fill="#1e1e1e" stroke="#1e1e1e" stroke-width="0.22">2</text>
<line x1="411.34" y1="388.20" x2="411.34" y2="385.00" stroke="#8e9696" stroke-width="1"/>
<text transform="translate(411.34,398.10) scale(1,1.120)" text-anchor="middle" font-size="8.90" fill="#1e1e1e" stroke="#1e1e1e" stroke-width="0.22">3</text>
<line x1="454.76" y1="388.20" x2="454.76" y2="385.00" stroke="#8e9696" stroke-width="1"/>
<text transform="translate(454.76,398.10) scale(1,1.120)" text-anchor="middle" font-size="8.90" fill="#1e1e1e" stroke="#1e1e1e" stroke-width="0.22">4</text>
<line x1="498.18" y1="388.20" x2="498.18" y2="385.00" stroke="#8e9696" stroke-width="1"/>
<text transform="translate(498.18,398.10) scale(1,1.120)" text-anchor="middle" font-size="8.90" fill="#1e1e1e" stroke="#1e1e1e" stroke-width="0.22">5</text>
<text transform="translate(541.60,398.10) scale(1,1.120)" text-anchor="middle" font-size="8.90" fill="#1e1e1e" stroke="#1e1e1e" stroke-width="0.22">6</text>
<text transform="translate(320.60,390.45) scale(1,1.120)" text-anchor="end" font-size="8.90" fill="#1e1e1e" stroke="#1e1e1e" stroke-width="0.22">5</text>
<line x1="324.50" y1="345.10" x2="328.00" y2="345.10" stroke="#8e9696" stroke-width="1"/>
<text transform="translate(320.60,347.35) scale(1,1.120)" text-anchor="end" font-size="8.90" fill="#1e1e1e" stroke="#1e1e1e" stroke-width="0.22">10</text>
<line x1="324.50" y1="302.00" x2="328.00" y2="302.00" stroke="#8e9696" stroke-width="1"/>
<text transform="translate(320.60,304.25) scale(1,1.120)" text-anchor="end" font-size="8.90" fill="#1e1e1e" stroke="#1e1e1e" stroke-width="0.22">15</text>
<line x1="324.50" y1="258.90" x2="328.00" y2="258.90" stroke="#8e9696" stroke-width="1"/>
<text transform="translate(320.60,261.15) scale(1,1.120)" text-anchor="end" font-size="8.90" fill="#1e1e1e" stroke="#1e1e1e" stroke-width="0.22">20</text>
<text transform="translate(320.60,218.05) scale(1,1.120)" text-anchor="end" font-size="8.90" fill="#1e1e1e" stroke="#1e1e1e" stroke-width="0.22">25</text>
<text transform="translate(431.20,413.60) scale(1,1.040)" text-anchor="middle" font-size="9.70" fill="#1e1e1e" stroke="#1e1e1e" stroke-width="0.22">Depth of carburized layer, mm</text>
<text transform="translate(299.50,301.70) rotate(-90) scale(1,1.120)" text-anchor="middle" font-size="9.80" fill="#1e1e1e" stroke="#1e1e1e" stroke-width="0.22">Elongation to failure, <tspan font-style="italic" font-family="Liberation Serif">ε</tspan><tspan font-size="6.6" dy="2">EF</tspan><tspan dy="-2"> / %</tspan></text>
<text transform="translate(530.10,232.70) scale(1,1.000)" text-anchor="middle" font-size="14.80" fill="#1e1e1e" stroke="#1e1e1e" stroke-width="0.22">(d)</text>
</svg>
</body></html>
